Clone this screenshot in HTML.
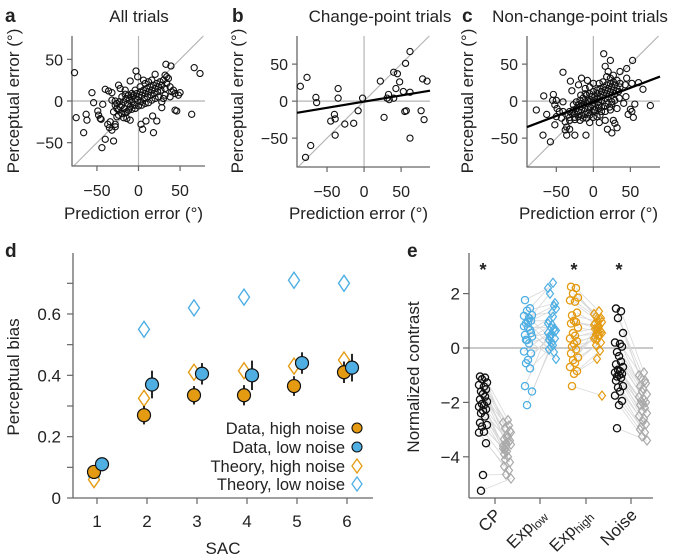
<!DOCTYPE html>
<html><head><meta charset="utf-8">
<style>
html,body{margin:0;padding:0;background:#fff;}
svg{display:block;font-family:"Liberation Sans",sans-serif;fill:#222;}
</style></head>
<body>
<svg id="fig" width="685" height="560" viewBox="0 0 685 560" xmlns="http://www.w3.org/2000/svg"></svg>
<script>
// ---------- Panel a data (prediction error, perceptual error) ----------
const aX = [-77,-75,-66,-63,-62,-56,-54,-49,-48,-46,-45,-44,-43,-40,-40,-36,-32,-37,-35,-34,-32,-30,-28,-28,-26,-24,-22,-16,-14,-10,-10,-3,-1,3,5,9,6,17,18,22,20,28,33,39,32,34,44,46,64,67,74,42,44,48,50,28,30,-32,-28,-26,
-24,-22,-20,-18,-17,-15,-14,-13,-11,-10,-9,-8,-6,-5,-4,-2,-1,0,2,3,4,6,7,8,10,11,12,14,15,16,18,19,20,22,23,24,26,27,28,30,32,34,36,38,-20,-24,-18,-16,-12,-8,-4,0,4,8,12,16,20,24,32,38,40,-8,-4,-12,-16,-20,-23,-26,-30,-28,8,12,16,2];
const aY = [34,-20,-38,-16,-23,10,-2,-12,-17,-21,-22,-56,-4,-46,14,12,10,-28,-32,-25,-35,-48,-28,-31,-19,19,15,13,-21,-23,24,36,29,-28,-34,-24,25,-18,-38,-24,32,-8,44,42,31,29,-11,-12,-16,40,33,13,9,7,10,-1,3,1,0,-3,
-11,-7,-5,-1,-9,3,-13,-3,1,-7,5,-1,7,-5,3,9,1,5,11,-1,7,13,3,9,15,5,11,17,7,13,19,9,15,21,11,17,23,13,19,25,15,21,27,17,-15,-17,-20,-14,-11,-10,-9,-6,-5,-3,-2,1,3,5,7,5,11,9,13,7,8,5,-1,-9,-13,-5,21,23,25,17];
// ---------- Panel b data ----------
const bX = [-86,-77,-65,-64,-35,-35,-2,22,40,45,48,43,33,31,34,40,53,62,56,62,79,85,57,55,77,81,62,27,-8,-14,-26,-40,-39,-45,-39,-72,-79];
const bY = [20,32,5,-2,17,4,4,27,39,37,26,17,9,4,2,4,13,12,51,67,30,27,-13,-14,-13,-25,-50,-22,-13,-30,-31,-18,-24,-27,-46,-60,-76];
const bFit = [0.167,-0.7]; // slope, intercept
// ---------- Panel c data ----------
const cX = [-77,-67,-63,-68,-58,-54,-55,-52,-50,-49,-46,-52,-50,-41,-41,-31,-29,-16,-8,-10,-38,-36,-32,-25,14,23,16,20,36,45,53,61,67,77,56,50,52,54,47,41,44,35,32,29,32,25,19,16,23,22,8,-5,-14,-25,-32,-20,-11,36,43,45,52,27,25,
-34,-32,-29,-27,-25,-23,-20,-18,-16,-14,-11,-9,-7,-5,-2,0,2,5,7,9,11,14,16,18,20,23,25,27,29,32,34,36,-27,-23,-18,-14,-9,-5,0,5,9,14,18,23,27,32,-20,-16,-11,-7,-2,2,7,11,16,20,25,29,-32,-25,-18,-9,0,9,5,-2,-7,-11,-16,-20,2,7,11,16,-4,1,11,16,20,25,29,18,23,27,13,8,-5,0,-11,-17,-41,-43,-38,-36,5,-5];
const cY = [-12,7,-18,-46,-55,9,1,-5,1,-10,-14,-32,-21,-1,39,27,14,31,28,-46,-39,-46,-38,-46,64,55,47,40,40,44,55,25,16,-6,-4,-11,-14,-22,-18,-3,6,4,-10,-30,-36,-43,-38,-26,-12,-8,-29,-29,-23,-22,-22,22,17,24,22,31,24,-26,-4,
-19,-14,-17,-12,-17,-10,-14,-8,-12,-5,-10,-3,-8,-1,-5,1,-3,4,-1,6,1,8,4,10,6,13,8,15,10,17,13,19,-5,-1,1,4,8,10,13,15,17,19,22,24,26,28,-21,-19,-18,-16,-14,-12,-10,-8,-7,-4,-1,1,-26,-25,-26,-23,-22,-19,10,6,1,-1,-3,-5,6,-5,-14,-14,-9,-12,13,15,17,19,22,33,31,35,26,24,19,24,10,8,-14,-23,-28,-35,-21,-19];
const cFit = [0.38,-1];
// ---------- Panel d data ----------
const sacCats = [1,2,3,4,5,6];
const dataHigh = [0.085,0.27,0.335,0.335,0.365,0.41];
const errHigh = [0.02,0.03,0.03,0.033,0.032,0.035];
const dataLow = [0.11,0.37,0.405,0.40,0.44,0.425];
const errLow = [0.02,0.045,0.035,0.048,0.035,0.045];
const theoryHigh = [0.06,0.325,0.41,0.415,0.43,0.45];
const theoryLow = [0.07,0.55,0.62,0.655,0.71,0.70];
const dYTicks = [0,0.2,0.4,0.6];
const dYTickLabels = ["0","0.2","0.4","0.6"];
// ---------- Panel e data ----------
const eCats = ["CP","Exp_low","Exp_high","Noise"];
const eCircles = [
 [-1.05,-1.09,-1.15,-1.27,-1.36,-1.42,-1.52,-1.6,-1.69,-1.79,-1.89,-1.97,-2.06,-2.1,-2.16,-2.25,-2.3,-2.4,-2.52,-2.75,-2.83,-2.89,-3.08,-3.11,-3.5,-4.67,-5.25],
 [1.76,1.46,1.37,1.21,1.18,1.09,1.0,0.91,0.76,0.66,0.48,0.42,0.29,0.17,-0.13,-0.2,-0.44,-0.56,-0.75,-1.4,-1.6,-2.1,1.1,0.8,0.55,0.95,0.3],
 [2.25,2.2,2.0,1.85,1.75,1.7,1.3,1.2,1.0,0.95,0.9,0.75,0.55,0.45,0.35,0.25,0.15,0.05,-0.05,-0.2,-0.35,-0.45,-0.55,-0.7,-0.85,-0.95,-1.4],
 [1.45,1.35,1.1,0.55,0.2,0.15,0.05,-0.15,-0.3,-0.5,-0.6,-0.7,-0.8,-0.85,-0.9,-0.95,-1.0,-1.05,-1.1,-1.2,-1.4,-1.45,-1.6,-1.75,-1.95,-2.1,-2.95]
];
const eDiamonds = [
 [-2.75,-2.65,-3.05,-2.95,-3.2,-2.85,-3.35,-3.1,-3.5,-3.25,-3.6,-3.4,-3.3,-3.75,-3.45,-3.9,-3.55,-3.65,-4.0,-3.7,-4.2,-3.8,-4.1,-4.35,-4.5,-4.65,-4.8],
 [2.2,2.4,1.65,2.0,1.3,1.55,1.0,1.45,0.75,1.15,0.9,0.6,0.85,0.45,0.7,0.3,0.65,0.5,0.1,0.55,0.35,0.2,0.4,-0.05,-0.15,0.05,-0.4],
 [1.25,1.35,1.1,1.15,1.0,1.05,0.9,0.95,0.7,0.8,0.85,0.6,0.75,0.5,0.65,0.4,0.55,0.3,0.45,0.35,0.2,0.6,0.1,0.7,-0.1,-0.4,-1.75],
 [-1.0,-0.9,-1.3,-1.1,-1.5,-1.2,-1.4,-1.7,-1.6,-1.9,-1.8,-2.0,-2.05,-1.95,-2.2,-2.1,-2.4,-2.3,-2.6,-2.5,-2.8,-2.7,-2.9,-3.0,-3.1,-3.25,-3.4]
];
const eSignificant = [true,false,true,true];
const eYTicks = [2,0,-2,-4];
const eYTickLabels = ["2","0","\u22122","\u22124"];

const NS = "http://www.w3.org/2000/svg";
const svg = document.getElementById('fig');
function mk(tag, attrs, parent){
  const e = document.createElementNS(NS, tag);
  for (const k in attrs) e.setAttribute(k, attrs[k]);
  (parent||svg).appendChild(e);
  return e;
}
function txt(s, attrs, parent){ const t = mk('text', attrs, parent); t.textContent = s; return t; }
const AX = '#666', ORANGE = '#E49B12', BLUE = '#4FAFE3', GRAY = '#aaa';

// ---------- scatter panels ----------
function scatterPanel(id, letter, letterX, title, px, xr, py, yr, xs, ys, fit, titleX, ylabX){
  const g = mk('g', {});
  
  
  const sx = v => px[0] + (v - xr[0]) / (xr[1] - xr[0]) * (px[1] - px[0]);
  const sy = v => py[1] - (v - yr[0]) / (yr[1] - yr[0]) * (py[1] - py[0]);
  const zx = mk('line', {x1:sx(0), x2:sx(0), y1:py[0], y2:py[1], stroke:'#b5b5b5', 'stroke-width':1.2}, g);
  
  
  const zy = mk('line', {x1:px[0], x2:px[1], y1:sy(0), y2:sy(0), stroke:'#b5b5b5', 'stroke-width':1.2}, g);
  
  
  const lo = Math.max(xr[0], yr[0]), hi = Math.min(xr[1], yr[1]);
  const dg = mk('line', {x1:sx(lo), y1:sy(lo), x2:sx(hi), y2:sy(hi), stroke:'#b5b5b5', 'stroke-width':1.2}, g);
  
  
  const ya = mk('line', {x1:px[0], x2:px[0], y1:py[0], y2:py[1]+0.5, stroke:AX, 'stroke-width':1.3}, g);
  
  
  const xa = mk('line', {x1:px[0], x2:px[1], y1:py[1], y2:py[1], stroke:AX, 'stroke-width':1.3}, g);
  
  
  [-50,0,50].forEach(v => {
    mk('line', {x1:sx(v), x2:sx(v), y1:py[1], y2:py[1]+5, stroke:AX, 'stroke-width':1.2}, g);
    const tl = txt(v<0 ? '\u221250' : String(v), {x:sx(v), y:py[1]+30, 'font-size':16, 'text-anchor':'middle'}, g);
    
    
    mk('line', {x1:px[0]-5, x2:px[0], y1:sy(v), y2:sy(v), stroke:AX, 'stroke-width':1.2}, g);
    const yl = txt(v<0 ? '\u221250' : String(v), {x:px[0]-9, y:sy(v)+6, 'font-size':16, 'text-anchor':'end'}, g);
    
    
  });
  for (let i = 0; i < xs.length; i++){
    const c = mk('circle', {cx:sx(xs[i]), cy:sy(ys[i]), r:3.1, fill:'none', stroke:'#111', 'stroke-width':1.1}, g);
    
    
  }
  if (fit){
    const fl = mk('line', {x1:sx(xr[0]), y1:sy(fit[0]*xr[0]+fit[1]), x2:sx(xr[1]), y2:sy(fit[0]*xr[1]+fit[1]), stroke:'#000', 'stroke-width':2.2}, g);
    
    
  }
  const L = txt(letter, {x:letterX, y:22, 'font-size':19, 'font-weight':'bold'}, g);
  
  
  const T = txt(title, {x:titleX, y:22, 'font-size':17, 'text-anchor':'middle'}, g);
  
  
  const XL = txt('Prediction error (\u00b0)', {x:(px[0]+px[1])/2 - 5, y:219, 'font-size':17, 'text-anchor':'middle'}, g);
  
  
  const YL = txt('Perceptual error (\u00b0)', {x:0, y:0, 'font-size':17, 'text-anchor':'middle', transform:`translate(${ylabX},${py[0]+65}) rotate(-90)`}, g);
  
  
}
scatterPanel('a', 'a', 5, 'All trials', [72,205], [-80,80], [36,166], [-78,78], aX, aY, null, 139, 19);
scatterPanel('b', 'b', 232, 'Change-point trials', [297,430], [-90.5,89], [36,167], [-89,88], bX, bY, bFit, 380, 243);
scatterPanel('c', 'c', 462, 'Non-change-point trials', [527,660], [-89.6,90], [36,167], [-89,88], cX, cY, cFit, 580, 473);

// ---------- Panel d ----------
(function(){
  const g = mk('g', {});
  
  
  const X0 = 73, X1 = 373, Y0 = 253, Y1 = 498;
  const sx = v => 97 + (v - 1) * 50;
  const sy = v => Y1 - v * 306.7;
  const ya = mk('line', {x1:X0, x2:X0, y1:Y0, y2:Y1, stroke:AX, 'stroke-width':1.3}, g);
  
  
  const xa = mk('line', {x1:X0, x2:X1, y1:Y1, y2:Y1, stroke:AX, 'stroke-width':1.3}, g);
  
  
  for (let k = 0; k <= 7; k++){
    const v = k * 0.1;
    mk('line', {x1:X0-6, x2:X0, y1:sy(v), y2:sy(v), stroke:AX, 'stroke-width':1.2}, g);
  }
  dYTicks.forEach((v, i) => {
    const t = txt(dYTickLabels[i], {x:X0-12, y:sy(v)+6, 'font-size':17, 'text-anchor':'end'}, g);
    
    
  });
  sacCats.forEach(c => {
    mk('line', {x1:sx(c), x2:sx(c), y1:Y1, y2:Y1+6, stroke:AX, 'stroke-width':1.2}, g);
    const t = txt(String(c), {x:sx(c), y:Y1+29, 'font-size':17, 'text-anchor':'middle'}, g);
    
    
  });
  const xt = txt('SAC', {x:223, y:554, 'font-size':17, 'text-anchor':'middle'}, g);
  
  
  const yt = txt('Perceptual bias', {x:0, y:0, 'font-size':17, 'text-anchor':'middle', transform:'translate(19,377) rotate(-90)'}, g);
  
  
  const L = txt('d', {x:5, y:257, 'font-size':19, 'font-weight':'bold'}, g);
  
  
  function diamond(cx, cy, col){
    return mk('path', {d:`M${cx} ${cy-8}L${cx+5.5} ${cy}L${cx} ${cy+8}L${cx-5.5} ${cy}Z`, fill:'#fff', stroke:col, 'stroke-width':1.4}, g);
  }
  sacCats.forEach((c, i) => {
    const d1 = diamond(sx(c)-3, sy(theoryLow[i]), BLUE);
    
    
    const d2 = diamond(sx(c)-3, sy(theoryHigh[i]), ORANGE);
    
    
  });
  sacCats.forEach((c, i) => {
    const xh = sx(c)-3, xl = sx(c)+5;
    const e1 = mk('line', {x1:xh, x2:xh, y1:sy(dataHigh[i]-errHigh[i]), y2:sy(dataHigh[i]+errHigh[i]), stroke:'#111', 'stroke-width':1.8}, g);
    
    
    const c1 = mk('circle', {cx:xh, cy:sy(dataHigh[i]), r:6.5, fill:ORANGE, stroke:'#111', 'stroke-width':1.2}, g);
    
    
    const e2 = mk('line', {x1:xl, x2:xl, y1:sy(dataLow[i]-errLow[i]), y2:sy(dataLow[i]+errLow[i]), stroke:'#111', 'stroke-width':1.8}, g);
    
    
    const c2 = mk('circle', {cx:xl, cy:sy(dataLow[i]), r:6.5, fill:BLUE, stroke:'#111', 'stroke-width':1.2}, g);
    
    
  });
  const lg = mk('g', {}, g);
  
  
  const rows = [['Data, high noise', 428], ['Data, low noise', 447], ['Theory, high noise', 466], ['Theory, low noise', 484]];
  rows.forEach((r, i) => {
    const t = txt(r[0], {x:345, y:r[1]+6, 'font-size':16.5, 'text-anchor':'end'}, lg);
    
    
  });
  const m1 = mk('circle', {cx:357, cy:428, r:5, fill:ORANGE, stroke:'#111', 'stroke-width':1.1}, lg);
  
  
  const m2 = mk('circle', {cx:357, cy:447, r:5, fill:BLUE, stroke:'#111', 'stroke-width':1.1}, lg);
  
  
  const m3 = mk('path', {d:'M357 459L362 466L357 473L352 466Z', fill:'#fff', stroke:ORANGE, 'stroke-width':1.3}, lg);
  
  
  const m4 = mk('path', {d:'M357 477L362 484L357 491L352 484Z', fill:'#fff', stroke:BLUE, 'stroke-width':1.3}, lg);
  
  
})();

// ---------- Panel e ----------
(function(){
  const g = mk('g', {});
  
  
  const X0 = 469, X1 = 653, Y0 = 253, Y1 = 498;
  const sy = v => 348 - v * 27.2;
  const tickX = [495, 540, 586, 631];
  const colors = ['#111', BLUE, ORANGE, '#111'];
  const dColors = [GRAY, BLUE, ORANGE, GRAY];
  const jit = [-3,2,-1,4,-4,1,3,-2,0,2,-3,4,-1,1,-4,3,0,-2,2,-3,4,-1,1,-4,3,0,-2];
  const zl = mk('line', {x1:X0, x2:X1, y1:sy(0), y2:sy(0), stroke:'#aaa', 'stroke-width':1.3}, g);
  
  
  const ya = mk('line', {x1:X0, x2:X0, y1:Y0, y2:Y1, stroke:AX, 'stroke-width':1.3}, g);
  
  
  const xa = mk('line', {x1:X0, x2:X1, y1:Y1, y2:Y1, stroke:AX, 'stroke-width':1.3}, g);
  
  
  eYTicks.forEach((v, i) => {
    mk('line', {x1:X0-6, x2:X0, y1:sy(v), y2:sy(v), stroke:AX, 'stroke-width':1.2}, g);
    const t = txt(eYTickLabels[i], {x:X0-9, y:sy(v)+6, 'font-size':17, 'text-anchor':'end'}, g);
    
    
  });
  const yt = txt('Normalized contrast', {x:0, y:0, 'font-size':17, 'text-anchor':'middle', transform:'translate(419,377) rotate(-90)'}, g);
  
  
  const L = txt('e', {x:407, y:257, 'font-size':19, 'font-weight':'bold'}, g);
  
  
  eCats.forEach((cat, k) => {
    const cx = tickX[k] - 12, dx = tickX[k] + 12;
    for (let i = 0; i < eCircles[k].length; i++){
      const ln = mk('line', {x1:cx+jit[i], y1:sy(eCircles[k][i]), x2:dx+jit[(i+4)%jit.length], y2:sy(eDiamonds[k][i]), stroke:'#d8d8d8', 'stroke-width':0.8}, g);
      
      
    }
  });
  eCats.forEach((cat, k) => {
    const cx = tickX[k] - 12, dx = tickX[k] + 12;
    eDiamonds[k].forEach((v, i) => {
      const x = dx + jit[(i+4)%jit.length], y = sy(v);
      const d = mk('path', {d:`M${x} ${y-4.5}L${x+3.5} ${y}L${x} ${y+4.5}L${x-3.5} ${y}Z`, fill:'none', stroke:dColors[k], 'stroke-width':1.2}, g);
      
      
    });
    eCircles[k].forEach((v, i) => {
      const c = mk('circle', {cx:cx + jit[i], cy:sy(v), r:3.6, fill:'none', stroke:colors[k], 'stroke-width':1.3}, g);
      
      
    });
    if (eSignificant[k]){
      const s = txt('*', {x:cx, y:276, 'font-size':18, 'font-weight':'bold', 'text-anchor':'middle'}, g);
      
      
    }
    mk('line', {x1:tickX[k], x2:tickX[k], y1:Y1, y2:Y1+6, stroke:AX, 'stroke-width':1.2}, g);
    const parts = cat.split('_');
    const t = mk('text', {x:0, y:0, 'font-size':17, 'text-anchor':'end', transform:`translate(${tickX[k]+7},${Y1+18}) rotate(-45)`}, g);
    
    
    const t1 = mk('tspan', {}, t); t1.textContent = parts[0];
    if (parts[1]){ const t2 = mk('tspan', {'font-size':12, dy:3}, t); t2.textContent = parts[1]; }
  });
})();
</script>
</body></html>
